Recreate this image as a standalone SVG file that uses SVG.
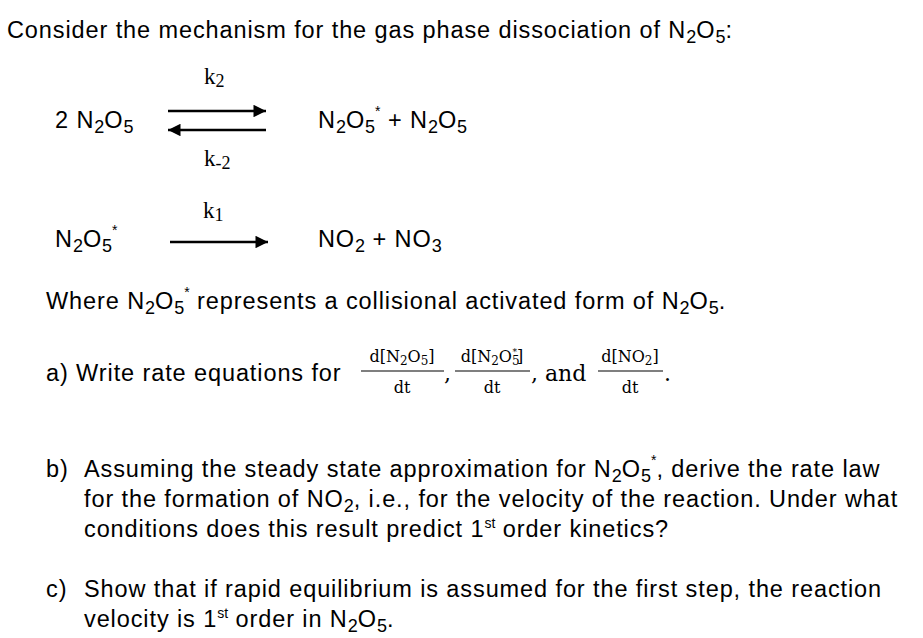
<svg xmlns="http://www.w3.org/2000/svg" width="923" height="638" viewBox="0 0 923 638">
<style>
text{font-family:"Liberation Sans",Arial,sans-serif;font-size:23.5px;letter-spacing:0.9px;fill:#000}
.s{font-size:18px;letter-spacing:0}
.a{font-size:14px;letter-spacing:0}
.k{font-family:"Liberation Serif","Times New Roman",serif;font-size:23px;letter-spacing:0}
.m{font-family:"DejaVu Serif","Liberation Serif",serif;font-size:16px;letter-spacing:0}
.mt{font-family:"DejaVu Serif","Liberation Serif",serif;font-size:22px;letter-spacing:0}
line{stroke:#000;stroke-width:2.5}
</style>
<defs><marker id="ah" viewBox="0 0 10 10" refX="10" refY="5" markerWidth="6" markerHeight="5" orient="auto"><path d="M0,0L10,5L0,10z" fill="#000"/></marker></defs>
<rect width="923" height="638" fill="#fff"/>
<text x="7" y="38">Consider the mechanism for the gas phase dissociation of N<tspan class="s" dy="5">2</tspan><tspan dy="-5">O</tspan><tspan class="s" dy="5">5</tspan><tspan dy="-5">:</tspan></text>
<g id="r1">
<text x="55" y="128">2 N<tspan class="s" dy="5">2</tspan><tspan dy="-5">O</tspan><tspan class="s" dy="5">5</tspan></text>
<text x="318" y="128">N<tspan class="s" dy="5">2</tspan><tspan dy="-5">O</tspan><tspan class="s" dy="5">5</tspan><tspan class="a" dy="-17">*</tspan><tspan dy="12"> + N</tspan><tspan class="s" dy="5">2</tspan><tspan dy="-5">O</tspan><tspan class="s" dy="5">5</tspan></text>
<text class="k" x="204" y="84">k<tspan class="s" dy="3">2</tspan></text>
<text class="k" x="204" y="166">k<tspan class="s" dy="3">-2</tspan></text>
</g>
<g id="r2">
<text x="55" y="247">N<tspan class="s" dy="5">2</tspan><tspan dy="-5">O</tspan><tspan class="s" dy="5">5</tspan><tspan class="a" dy="-17">*</tspan></text>
<text x="318" y="247">NO<tspan class="s" dy="5">2</tspan><tspan dy="-5">  +  NO</tspan><tspan class="s" dy="5">3</tspan></text>
<text class="k" x="203" y="218">k<tspan class="s" dy="3">1</tspan></text>
</g>
<g id="connectors">
<line x1="168" y1="111" x2="266" y2="111" marker-end="url(#ah)"/>
<line x1="266" y1="130" x2="168" y2="130" marker-end="url(#ah)"/>
<line x1="170" y1="242" x2="268" y2="242" marker-end="url(#ah)"/>
</g>
<text x="46" y="309">Where N<tspan class="s" dy="5">2</tspan><tspan dy="-5">O</tspan><tspan class="s" dy="5">5</tspan><tspan class="a" dy="-17">*</tspan><tspan dy="12"> represents a collisional activated form of N</tspan><tspan class="s" dy="5">2</tspan><tspan dy="-5">O</tspan><tspan class="s" dy="5">5</tspan><tspan dy="-5">.</tspan></text>
<text x="46" y="381">a) Write rate equations for</text>
<text class="m" x="402" y="362" text-anchor="middle">d[N<tspan font-size="12" dy="3">2</tspan><tspan dy="-3">O</tspan><tspan font-size="12" dy="3">5</tspan><tspan dy="-3">]</tspan></text>
<line x1="361" y1="371" x2="444" y2="371" style="stroke-width:1.2"/>
<text class="m" x="402" y="393" text-anchor="middle">dt</text>
<text class="mt" x="444" y="381">,</text>
<text class="m" x="492" y="362" text-anchor="middle">d[N<tspan font-size="12" dy="3">2</tspan><tspan dy="-3">O</tspan><tspan font-size="12" dy="3">5</tspan><tspan font-size="9" dx="-7" dy="-10">*</tspan><tspan dy="7">]</tspan></text>
<line x1="455" y1="371" x2="530" y2="371" style="stroke-width:1.2"/>
<text class="m" x="492" y="393" text-anchor="middle">dt</text>
<text class="mt" x="531" y="381">, and</text>
<text class="m" x="630" y="362" text-anchor="middle">d[NO<tspan font-size="12" dy="3">2</tspan><tspan dy="-3">]</tspan></text>
<line x1="598" y1="371" x2="663" y2="371" style="stroke-width:1.2"/>
<text class="m" x="630" y="393" text-anchor="middle">dt</text>
<text class="mt" x="664" y="381">.</text>
<text x="46" y="477">b)</text>
<text x="84" y="477">Assuming the steady state approximation for N<tspan class="s" dy="5">2</tspan><tspan dy="-5">O</tspan><tspan class="s" dy="5">5</tspan><tspan class="a" dy="-17">*</tspan><tspan dy="12">, derive the rate law</tspan></text>
<text x="84" y="507">for the formation of NO<tspan class="s" dy="5">2</tspan><tspan dy="-5">, i.e., for the velocity of the reaction. Under what</tspan></text>
<text x="84" y="537">conditions does this result predict 1<tspan class="a" dy="-9">st</tspan><tspan dy="9"> order kinetics?</tspan></text>
<text x="46" y="597">c)</text>
<text x="84" y="597">Show that if rapid equilibrium is assumed for the first step, the reaction</text>
<text x="84" y="627">velocity is 1<tspan class="a" dy="-9">st</tspan><tspan dy="9"> order in N</tspan><tspan class="s" dy="5">2</tspan><tspan dy="-5">O</tspan><tspan class="s" dy="5">5</tspan><tspan dy="-5">.</tspan></text>
</svg>
